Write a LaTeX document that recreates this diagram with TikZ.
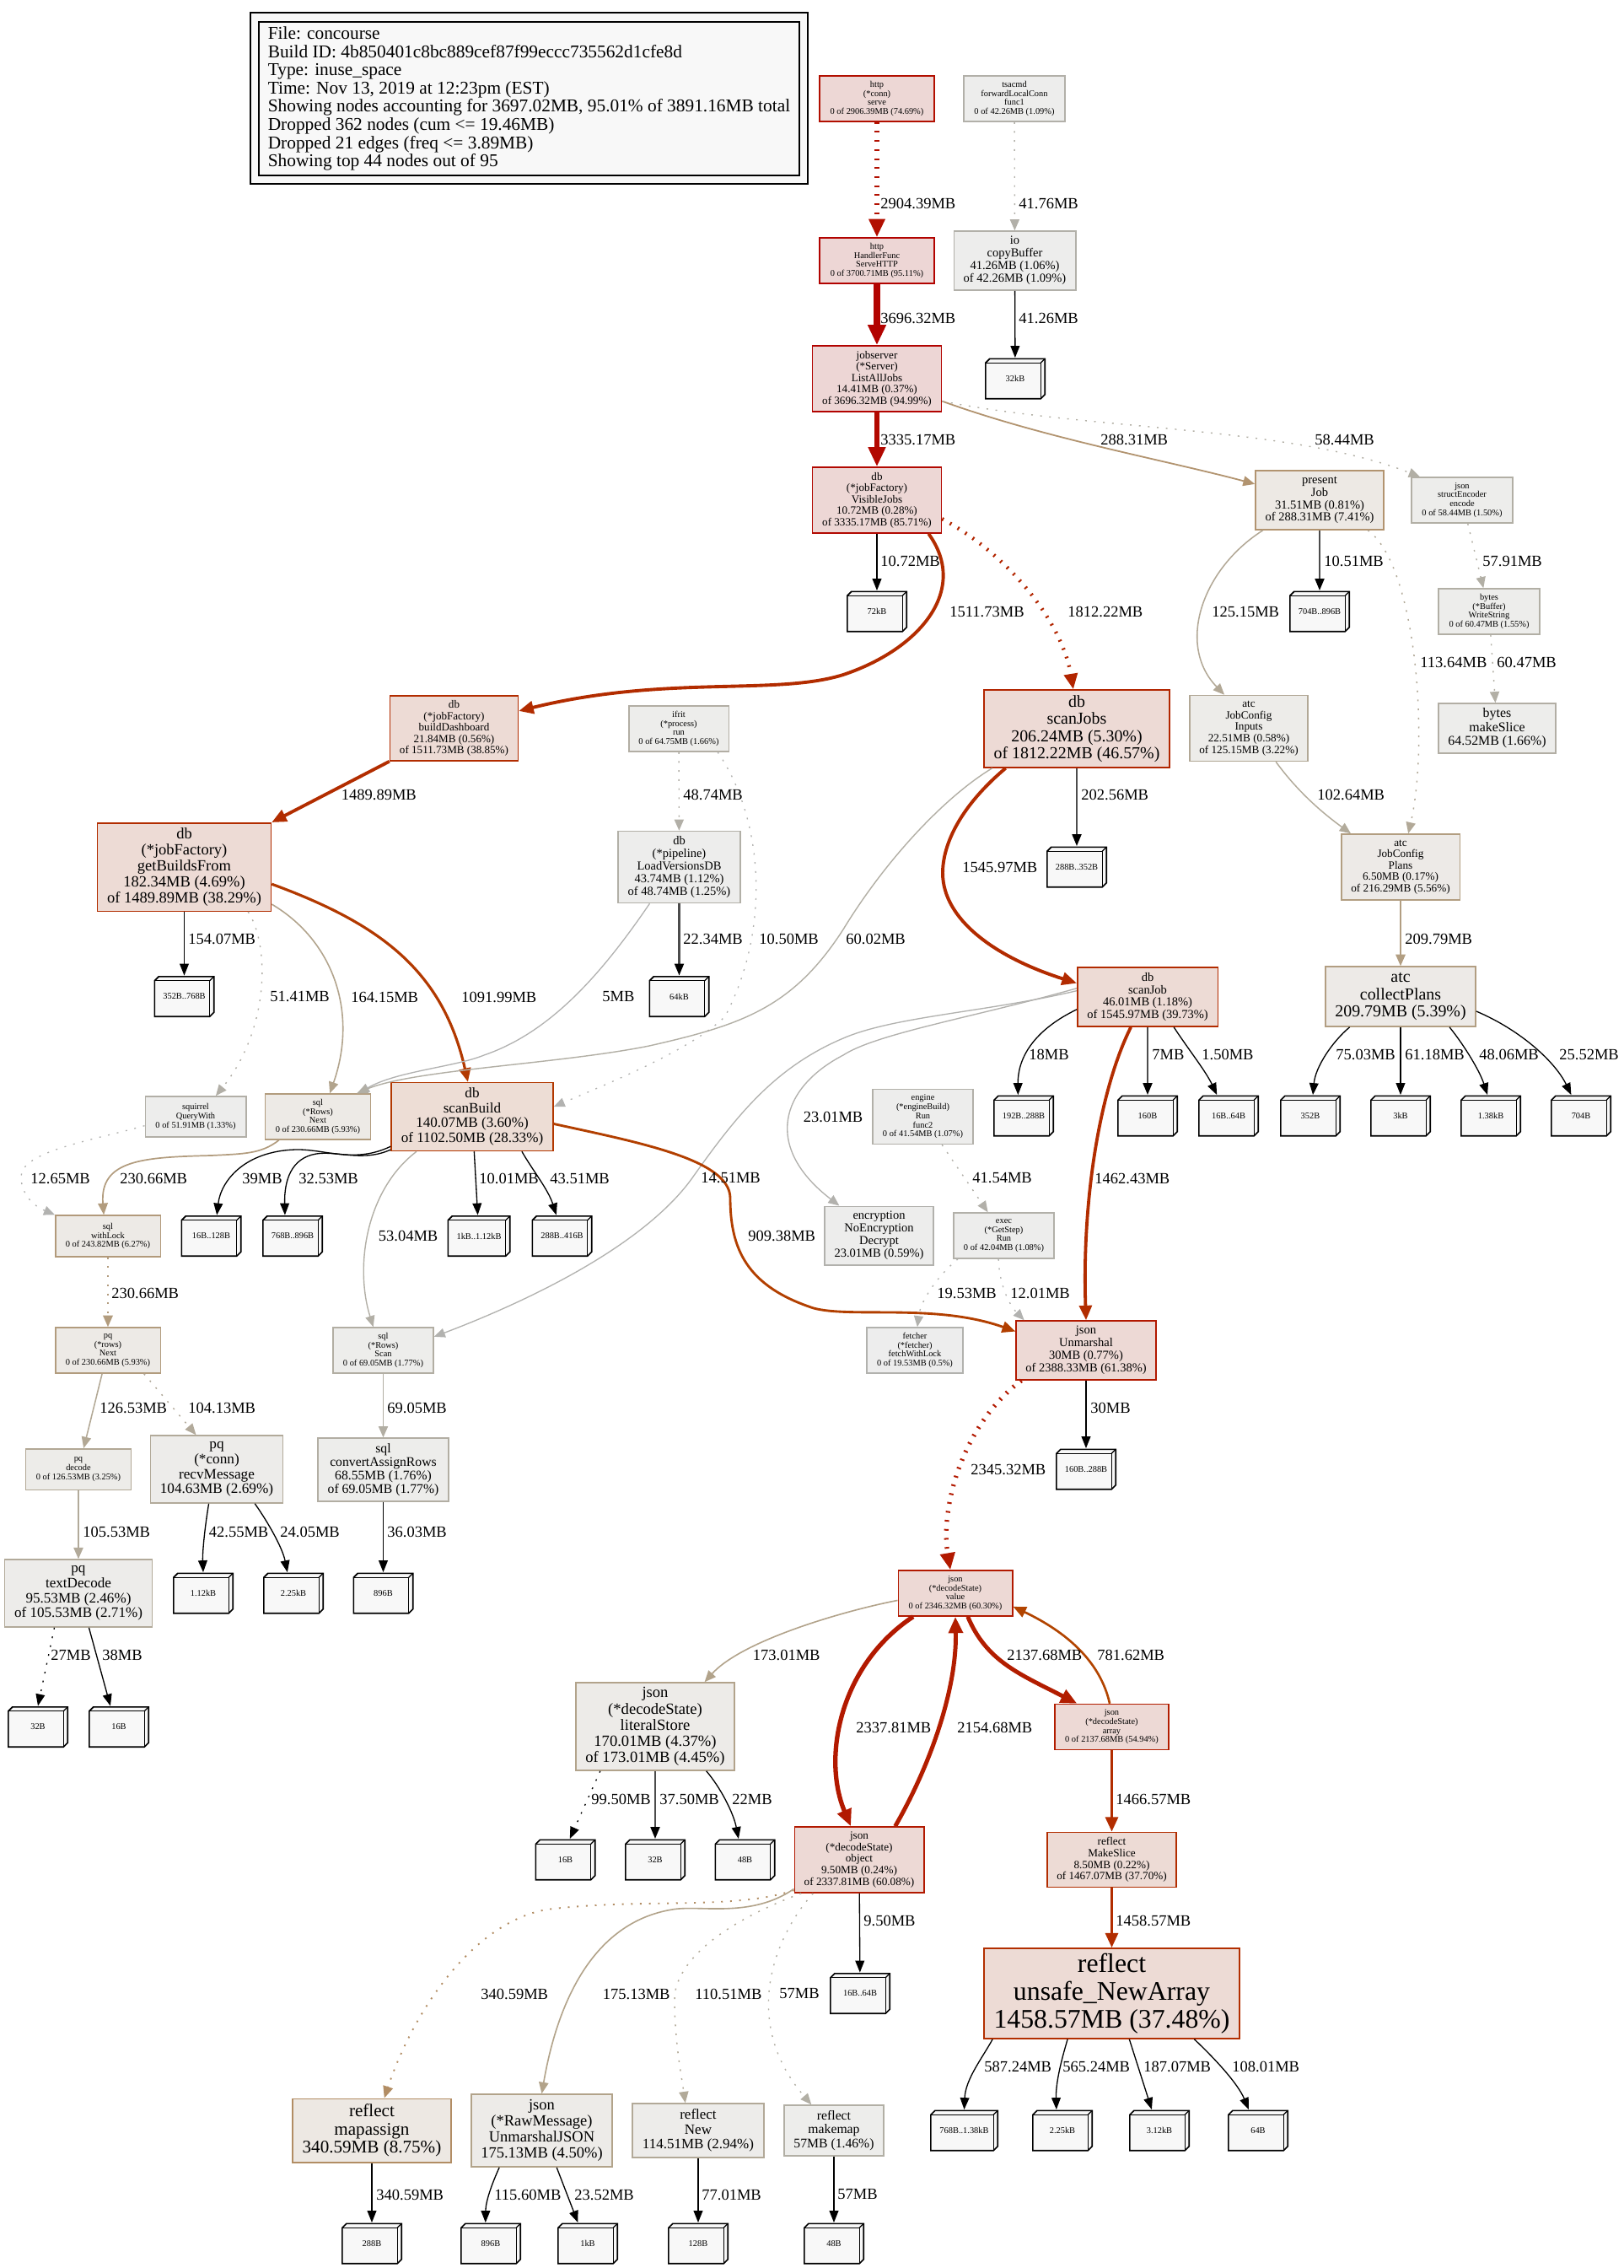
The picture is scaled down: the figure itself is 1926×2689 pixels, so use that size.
\documentclass[tikz,border=0pt]{standalone}
\usepackage{fontspec}
\setmainfont{Liberation Serif}
\usetikzlibrary{arrows.meta}
\definecolor{boxfill}{HTML}{F8F8F8}
\newcommand\setheat[1]{%
  \pgfmathsetmacro\heatsat{min(1,#1/20)}%
  \pgfmathsetmacro\heatpow{(#1/100)^0.3}%
  \pgfmathsetmacro\heatg{0.7*(1-\heatsat*\heatpow)}%
  \pgfmathsetmacro\heatb{0.7*(1-\heatsat)}%
  \pgfmathsetmacro\fillg{0.93*(1-0.1*\heatsat*\heatpow)}%
  \pgfmathsetmacro\fillb{0.93*(1-0.1*\heatsat)}%
  \definecolor{heatline}{rgb}{0.7,\heatg,\heatb}%
  \definecolor{heatfill}{rgb}{0.93,\fillg,\fillb}%
}
\newcommand\setpen[1]{%
  \pgfmathsetmacro\penfrac{#1/3891.16}%
  \pgfmathsetmacro\penlw{0.66*(1+5*\penfrac)}%
  \pgfmathsetmacro\tiplen{6.5*(1+0.9*\penfrac)}%
  \pgfmathsetmacro\tipwid{5.5*(1+0.9*\penfrac)}%
}
\begin{document}
\begin{tikzpicture}
            [x=0.5pt,y=-0.5pt,
            func/.code n args={4}{\setheat{#1}%
                \pgfmathsetmacro\nodefs{#2/2}\pgfmathsetmacro\nodels{#2*0.515}%
                \tikzset{rectangle,draw=heatline,fill=heatfill,line width=0.75pt,inner sep=0pt,align=center,
                    minimum width=0.5*#3pt,minimum height=0.5*#4pt,
                    font=\fontsize{\nodefs}{\nodels}\selectfont,
                    execute at begin node={\rule{0pt}{0.95em}}}},
            tagbox/.style={rectangle,inner sep=0pt,minimum width=36pt,minimum height=24.5pt,
                font=\fontsize{5.2}{5.3}\selectfont,
                path picture={
                    \coordinate (tsw) at ([shift={(0.4pt,0.4pt)}]path picture bounding box.south west);
                    \coordinate (tne) at ([shift={(-0.4pt,-0.4pt)}]path picture bounding box.north east);
                    \coordinate (tfr) at ([shift={(-2.5pt,-2.5pt)}]tne);
                    \draw[black,line width=0.8pt,fill=boxfill] (tsw) -- (tsw |- tfr) -- ++(2.5pt,2.5pt) -- (tne)
                        -- ([yshift=2.5pt]tne |- tsw) -- (tfr |- tsw) -- cycle;
                    \draw[black,line width=0.6pt] (tsw |- tfr) -- (tfr) -- (tfr |- tsw);
                    \draw[black,line width=0.6pt] (tfr) -- (tne);
                }},
            elab/.style={anchor=west,inner sep=0pt,font=\fontsize{9.25}{10}\selectfont},
            flow/.code={\setheat{#1/38.9116}\setpen{#1}%
                \tikzset{draw=heatline,line width=\penlw pt,-{Triangle[length=\tiplen pt,width=\tipwid pt]}}},
            tagflow/.style={draw=black,line width=0.66pt,-{Triangle[length=7pt,width=5.4pt]}},
            tagheavy/.style={draw=black!70,line width=1.2pt,-{Triangle[length=7pt,width=5.4pt,black]}},
            dotflow/.style={dash pattern=on 1pt off 4.35pt}]
            \useasboundingbox (0,0) rectangle (1926,2689);

            \node[draw=black,fill=boxfill,line width=0.7pt,minimum width=330.5pt,minimum height=101.5pt] (legendframe) at (627.5,116.5) {};
            \node[draw=black,fill=boxfill,line width=0.7pt,minimum width=320.5pt,minimum height=91pt,inner sep=0pt,align=left,
                font=\fontsize{10.68}{10.8}\selectfont] (legend) at (627.5,117) {File: concourse\\
                Build ID: 4b850401c8bc889cef87f99eccc735562d1cfe8d\\
                Type: inuse\_space\\
                Time: Nov 13, 2019 at 12:23pm (EST)\\
                Showing nodes accounting for 3697.02MB, 95.01\% of 3891.16MB total\\
                Dropped 362 nodes (cum <= 19.46MB)\\
                Dropped 21 edges (freq <= 3.89MB)\\
                Showing top 44 nodes out of 95};

            \node[func={74.69}{10.4}{136}{54}] (httpserve) at (1040,117) {http\\(*conn)\\serve\\0 of 2906.39MB (74.69\%)};
            \node[func={1.09}{10.4}{120}{54}] (tsacmd) at (1203,117) {tsacmd\\forwardLocalConn\\func1\\0 of 42.26MB (1.09\%)};
            \node[func={95.11}{10.4}{136}{54}] (handlerfunc) at (1040,309) {http\\HandlerFunc\\ServeHTTP\\0 of 3700.71MB (95.11\%)};
            \node[func={1.09}{14.5}{144.5}{70}] (copybuffer) at (1203.5,309) {io\\copyBuffer\\41.26MB (1.06\%)\\of 42.26MB (1.09\%)};
            \node[func={94.99}{13.1}{153}{78}] (listalljobs) at (1040,449) {jobserver\\(*Server)\\ListAllJobs\\14.41MB (0.37\%)\\of 3696.32MB (94.99\%)};
            \node[func={85.71}{13.1}{153}{78}] (visiblejobs) at (1040,593) {db\\(*jobFactory)\\VisibleJobs\\10.72MB (0.28\%)\\of 3335.17MB (85.71\%)};
            \node[func={7.41}{14.5}{152}{70}] (present) at (1565,593) {present\\Job\\31.51MB (0.81\%)\\of 288.31MB (7.41\%)};
            \node[func={1.50}{10.4}{120}{54}] (structencoder) at (1734,593) {json\\structEncoder\\encode\\0 of 58.44MB (1.50\%)};
            \node[func={1.55}{10.4}{120}{54}] (writestring) at (1766,725) {bytes\\(*Buffer)\\WriteString\\0 of 60.47MB (1.55\%)};
            \node[func={1.66}{15.9}{139}{59}] (makeslice) at (1775.5,863.5) {bytes\\makeSlice\\64.52MB (1.66\%)};
            \node[func={3.22}{13.2}{140}{78}] (jobinputs) at (1481,863.5) {atc\\JobConfig\\Inputs\\22.51MB (0.58\%)\\of 125.15MB (3.22\%)};
            \node[func={5.56}{13.2}{140.5}{78}] (jobplans) at (1661,1028) {atc\\JobConfig\\Plans\\6.50MB (0.17\%)\\of 216.29MB (5.56\%)};
            \node[func={5.39}{19.9}{178}{71}] (collectplans) at (1661,1181.5) {atc\\collectPlans\\209.79MB (5.39\%)};
            \node[func={46.57}{19.9}{220}{92}] (scanjobs) at (1277,864) {db\\scanJobs\\206.24MB (5.30\%)\\of 1812.22MB (46.57\%)};
            \node[func={39.73}{14.5}{166.5}{70}] (scanjob) at (1361,1182) {db\\scanJob\\46.01MB (1.18\%)\\of 1545.97MB (39.73\%)};
            \node[func={38.85}{13.1}{152}{77}] (builddashboard) at (538.5,863.5) {db\\(*jobFactory)\\buildDashboard\\21.84MB (0.56\%)\\of 1511.73MB (38.85\%)};
            \node[func={38.29}{18.5}{206}{104.5}] (getbuildsfrom) at (218.5,1028) {db\\(*jobFactory)\\getBuildsFrom\\182.34MB (4.69\%)\\of 1489.89MB (38.29\%)};
            \node[func={1.66}{10.4}{118.5}{54}] (ifritrun) at (805,864) {ifrit\\(*process)\\run\\0 of 64.75MB (1.66\%)};
            \node[func={1.25}{14.5}{145}{85}] (loadversions) at (805.5,1028) {db\\(*pipeline)\\LoadVersionsDB\\43.74MB (1.12\%)\\of 48.74MB (1.25\%)};
            \node[func={1.33}{10.4}{119.5}{48}] (querywith) at (232,1324) {squirrel\\QueryWith\\0 of 51.91MB (1.33\%)};
            \node[func={5.93}{10.4}{125}{54}] (rowsnext) at (377,1324) {sql\\(*Rows)\\Next\\0 of 230.66MB (5.93\%)};
            \node[func={28.33}{17.1}{192}{81}] (scanbuild) at (560,1324) {db\\scanBuild\\140.07MB (3.60\%)\\of 1102.50MB (28.33\%)};
            \node[func={6.27}{10.4}{124.5}{49}] (withlock) at (128,1465.5) {sql\\withLock\\0 of 243.82MB (6.27\%)};
            \node[func={1.07}{10.4}{119}{65}] (enginerun) at (1094.5,1324) {engine\\(*engineBuild)\\Run\\func2\\0 of 41.54MB (1.07\%)};
            \node[func={0.59}{14.5}{129}{69.5}] (decrypt) at (1042.5,1465) {encryption\\NoEncryption\\Decrypt\\23.01MB (0.59\%)};
            \node[func={1.08}{10.4}{119}{54}] (getstep) at (1190.5,1465) {exec\\(*GetStep)\\Run\\0 of 42.04MB (1.08\%)};
            \node[func={0.5}{10.4}{114}{54}] (fetchlock) at (1085,1601) {fetcher\\(*fetcher)\\fetchWithLock\\0 of 19.53MB (0.5\%)};
            \node[func={61.38}{14.5}{166}{70}] (unmarshal) at (1288,1601) {json\\Unmarshal\\30MB (0.77\%)\\of 2388.33MB (61.38\%)};
            \node[func={5.93}{10.4}{124.5}{54}] (pqnext) at (128,1601) {pq\\(*rows)\\Next\\0 of 230.66MB (5.93\%)};
            \node[func={1.77}{10.4}{119}{54}] (rowsscan) at (454.5,1601) {sql\\(*Rows)\\Scan\\0 of 69.05MB (1.77\%)};
            \node[func={3.25}{10.4}{125}{48.5}] (pqdecode) at (93,1742) {pq\\decode\\0 of 126.53MB (3.25\%)};
            \node[func={2.69}{17.2}{157}{80}] (recvmessage) at (257,1742) {pq\\(*conn)\\recvMessage\\104.63MB (2.69\%)};
            \node[func={1.77}{15.7}{155}{75}] (convertrows) at (454.5,1742.5) {sql\\convertAssignRows\\68.55MB (1.76\%)\\of 69.05MB (1.77\%)};
            \node[func={2.71}{17.1}{175}{80}] (textdecode) at (93,1889) {pq\\textDecode\\95.53MB (2.46\%)\\of 105.53MB (2.71\%)};
            \node[func={60.30}{10.4}{135.5}{54}] (decodevalue) at (1133,1889) {json\\(*decodeState)\\value\\0 of 2346.32MB (60.30\%)};
            \node[func={4.45}{18.6}{188}{104}] (literalstore) at (777,2047) {json\\(*decodeState)\\literalStore\\170.01MB (4.37\%)\\of 173.01MB (4.45\%)};
            \node[func={54.94}{10.4}{135}{54}] (decodearray) at (1318.5,2047.5) {json\\(*decodeState)\\array\\0 of 2137.68MB (54.94\%)};
            \node[func={60.08}{13.2}{153.5}{78}] (decodeobject) at (1019,2205) {json\\(*decodeState)\\object\\9.50MB (0.24\%)\\of 2337.81MB (60.08\%)};
            \node[func={37.70}{13.2}{153}{65}] (reflectslice) at (1318.5,2205) {reflect\\MakeSlice\\8.50MB (0.22\%)\\of 1467.07MB (37.70\%)};
            \node[func={37.48}{31.8}{303}{107}] (newarray) at (1318.5,2363.5) {reflect\\unsafe\_NewArray\\1458.57MB (37.48\%)};
            \node[func={8.75}{21.1}{188}{75.5}] (mapassign) at (441,2526) {reflect\\mapassign\\340.59MB (8.75\%)};
            \node[func={4.50}{18.5}{167}{86}] (rawmessage) at (642.5,2526) {json\\(*RawMessage)\\UnmarshalJSON\\175.13MB (4.50\%)};
            \node[func={2.94}{17}{156}{64}] (reflectnew) at (828,2526) {reflect\\New\\114.51MB (2.94\%)};
            \node[func={1.46}{15.7}{118}{60}] (makemap) at (989,2526) {reflect\\makemap\\57MB (1.46\%)};

            \node[tagbox] (t32kB) at (1204,449) {32kB};
            \node[tagbox] (t72kB) at (1040,725) {72kB};
            \node[tagbox] (t704B896B) at (1565,725) {704B..896B};
            \node[tagbox] (t288B352B) at (1277,1028) {288B..352B};
            \node[tagbox] (t352B768B) at (218.5,1181.5) {352B..768B};
            \node[tagbox] (t64kB) at (805.5,1181.5) {64kB};
            \node[tagbox] (t192B288B) at (1214,1323) {192B..288B};
            \node[tagbox] (t160B) at (1361,1323) {160B};
            \node[tagbox] (t16B64B) at (1457,1323) {16B..64B};
            \node[tagbox] (t352B) at (1554,1323) {352B};
            \node[tagbox] (t3kB) at (1661,1323) {3kB};
            \node[tagbox] (t138kB) at (1768,1323) {1.38kB};
            \node[tagbox] (t704B) at (1875,1323) {704B};
            \node[tagbox] (t16B128B) at (250.5,1465.5) {16B..128B};
            \node[tagbox] (t768B896B) at (347,1465.5) {768B..896B};
            \node[tagbox,minimum width=37.5pt] (t1kB112kB) at (568,1465.5) {1kB..1.12kB};
            \node[tagbox] (t288B416B) at (666.5,1465.5) {288B..416B};
            \node[tagbox] (t160B288B) at (1288,1742) {160B..288B};
            \node[tagbox] (t112kB) at (241,1889) {1.12kB};
            \node[tagbox] (t225kB) at (348,1889) {2.25kB};
            \node[tagbox] (t896B) at (454.5,1889) {896B};
            \node[tagbox] (t32B) at (45,2047.5) {32B};
            \node[tagbox] (t16B) at (141,2047.5) {16B};
            \node[tagbox] (s16B) at (670.5,2205) {16B};
            \node[tagbox] (s32B) at (777,2205) {32B};
            \node[tagbox] (s48B) at (883.5,2205) {48B};
            \node[tagbox] (o16B64B) at (1020,2363.5) {16B..64B};
            \node[tagbox,minimum width=40.5pt] (n768B138kB) at (1143.5,2526) {768B..1.38kB};
            \node[tagbox] (n225kB) at (1260,2526) {2.25kB};
            \node[tagbox] (n312kB) at (1375,2526) {3.12kB};
            \node[tagbox] (n64B) at (1492,2526) {64B};
            \node[tagbox] (m288B) at (441,2660) {288B};
            \node[tagbox] (r896B) at (582,2660) {896B};
            \node[tagbox] (r1kB) at (697,2660) {1kB};
            \node[tagbox] (b128B) at (828,2660) {128B};
            \node[tagbox] (k48B) at (989,2660) {48B};

            \draw[flow=2904.39,dotflow] (httpserve) -- (handlerfunc);
            \draw[flow=41.76,dotflow] (tsacmd) -- (copybuffer);
            \draw[flow=3696.32] (handlerfunc) -- (listalljobs);
            \draw[tagflow] (copybuffer) -- (t32kB);
            \draw[flow=3335.17] (listalljobs) -- (visiblejobs);
            \draw[flow=288.31] (listalljobs.-19) .. controls (1240,520) and (1380,545) .. (present.166);
            \draw[flow=58.44,dotflow] (listalljobs.-19) .. controls (1290,510) and (1530,505) .. (structencoder.151);
            \draw[tagheavy] (present) -- (t704B896B);
            \draw[flow=125.15] (present.208) .. controls (1425,675) and (1395,765) .. (jobinputs.126.6);
            \draw[flow=113.64,dotflow] (present.-32.5) .. controls (1680,670) and (1695,880) .. (jobplans.77);
            \draw[flow=57.91,dotflow] (structencoder) -- (writestring);
            \draw[flow=60.47,dotflow] (writestring) -- (makeslice);
            \draw[tagflow] (visiblejobs) -- (t72kB);
            \draw[flow=1511.73] (visiblejobs.-33) .. controls (1150,700) and (1090,770) .. (1000,800) .. controls (920,825) and (790,800) .. (builddashboard.15);
            \draw[flow=1812.22,dotflow] (visiblejobs.-16.6) .. controls (1200,660) and (1260,740) .. (scanjobs.95);
            \draw[flow=1489.89] (builddashboard.south west) -- (getbuildsfrom.north east);
            \draw[flow=48.74,dotflow] (ifritrun) -- (loadversions);
            \draw[flow=10.50,dotflow] (ifritrun.-31.8) .. controls (905,970) and (915,1100) .. (860,1205) .. controls (820,1245) and (720,1285) .. (scanbuild.7.7);
            \draw[tagflow] (getbuildsfrom) -- (t352B768B);
            \draw[flow=51.41,dotflow] (getbuildsfrom.-35.5) .. controls (320,1120) and (320,1220) .. (querywith.46.8);
            \draw[flow=164.15] (getbuildsfrom.-23.6) .. controls (395,1115) and (425,1200) .. (rowsnext.63.4);
            \draw[flow=1091.99] (getbuildsfrom.-11.5) .. controls (450,1095) and (525,1150) .. (scanbuild.97);
            \draw[flow=230.66] (rowsnext.211.6) .. controls (310,1368) and (290,1368) .. (250,1370) .. controls (170,1372) and (118,1375) .. (withlock.101.5);
            \draw[flow=12.65,dotflow] (querywith.-170.5) .. controls (110,1352) and (25,1365) .. (25,1395) .. controls (25,1420) and (45,1432) .. (withlock.north west);
            \draw[tagheavy] (loadversions) -- (t64kB);
            \draw[flow=5] (loadversions.231.8) .. controls (710,1160) and (650,1225) .. (574,1251) .. controls (540,1265) and (470,1270) .. (rowsnext.30);
            \draw[flow=60.02] (scanjobs.205.4) .. controls (1120,945) and (1050,1020) .. (1000,1102) .. controls (940,1195) and (880,1215) .. (770,1240) .. controls (660,1262) and (490,1268) .. (rowsnext.31.5);
            \draw[tagheavy] (scanjobs) -- (t288B352B);
            \draw[flow=1545.97] (scanjobs.209) .. controls (1140,955) and (1118,1000) .. (1118,1035) .. controls (1118,1090) and (1180,1135) .. (scanjob.169.8);
            \draw[flow=209.79] (jobplans) -- (collectplans);
            \draw[flow=102.64] (jobinputs.-51) .. controls (1540,940) and (1570,965) .. (jobplans.146.4);
            \draw[tagflow] (scanjob.190.9) .. controls (1225,1222) and (1207,1255) .. (t192B288B.105.6);
            \draw[tagheavy] (scanjob) -- (t160B);
            \draw[tagflow] (scanjob.-49.4) .. controls (1410,1245) and (1430,1270) .. (t16B64B.119);
            \draw[flow=1462.43] (scanjob.-119.7) .. controls (1305,1290) and (1283,1420) .. (unmarshal.north);
            \draw[flow=23.01] (scanjob.173) .. controls (1160,1205) and (1040,1225) .. (1000,1251) .. controls (925,1290) and (905,1360) .. (decrypt.143.6);
            \draw[flow=14.51] (scanjob.175) .. controls (1170,1200) and (1060,1205) .. (1000,1231) .. controls (920,1265) and (875,1320) .. (820,1398) .. controls (760,1480) and (620,1545) .. (rowsscan.15);
            \draw[flow=41.54,dotflow] (enginerun) -- (getstep);
            \draw[flow=19.53,dotflow] (getstep.207.7) .. controls (1115,1510) and (1092,1540) .. (fetchlock.84);
            \draw[flow=12.01,dotflow] (getstep.257.5) .. controls (1185,1520) and (1195,1545) .. (unmarshal.154.7);
            \draw[flow=909.38] (scanbuild.-5.7) .. controls (760,1355) and (865,1375) .. (866,1420) .. controls (866,1480) and (885,1525) .. (965,1551) .. controls (1010,1563) and (1110,1545) .. (unmarshal.165);
            \draw[tagflow] (scanbuild.200.6) .. controls (420,1380) and (385,1362) .. (350,1363) .. controls (290,1365) and (262,1400) .. (t16B128B.75);
            \draw[tagflow] (scanbuild.202) .. controls (430,1378) and (400,1364) .. (375,1368) .. controls (345,1373) and (337,1400) .. (t768B896B.110);
            \draw[tagflow] (scanbuild) -- (t1kB112kB);
            \draw[tagflow] (scanbuild.-35.7) .. controls (632,1388) and (650,1410) .. (t288B416B.105);
            \draw[flow=53.04] (scanbuild.212) .. controls (435,1410) and (420,1500) .. (rowsscan.113);
            \draw[flow=230.66,dotflow] (withlock) -- (pqnext);
            \draw[flow=126.53] (pqnext) -- (pqdecode);
            \draw[flow=104.13,dotflow] (pqnext.-33.4) -- (recvmessage.121);
            \draw[flow=69.05] (rowsscan) -- (convertrows);
            \draw[flow=105.53] (pqdecode) -- (textdecode);
            \draw[tagflow] (recvmessage.-103.8) .. controls (243,1810) and (240,1840) .. (t112kB.north);
            \draw[tagflow] (recvmessage.-42.7) .. controls (318,1805) and (335,1835) .. (t225kB.106);
            \draw[tagflow] (convertrows) -- (t896B);
            \draw[tagflow,dotflow] (textdecode.235) -- (t32B.north);
            \draw[tagflow] (textdecode.-73) -- (t16B.112.6);
            \draw[tagflow] (unmarshal) -- (t160B288B);
            \draw[flow=2345.32,dotflow] (unmarshal.205.3) .. controls (1140,1690) and (1115,1790) .. (decodevalue.102.5);
            \draw[flow=173.01] (decodevalue.187.6) .. controls (1000,1910) and (880,1945) .. (literalstore.42);
            \draw[flow=2337.81] (decodevalue.209.4) .. controls (995,1975) and (975,2085) .. (decodeobject.104);
            \draw[flow=2154.68] (decodeobject.43.6) .. controls (1105,2090) and (1135,2000) .. (decodevalue.south);
            \draw[flow=2137.68] (decodevalue.-62.7) .. controls (1170,1970) and (1210,1985) .. (decodearray.146.3);
            \draw[flow=781.62] (decodearray.95) .. controls (1305,1970) and (1265,1935) .. (decodevalue.-13.3);
            \draw[flow=1466.57] (decodearray) -- (reflectslice);
            \draw[flow=1458.57] (reflectslice) -- (newarray);
            \draw[tagflow,dotflow] (literalstore.219.8) -- (s16B.78);
            \draw[tagheavy] (literalstore) -- (s32B);
            \draw[tagflow] (literalstore.-41.4) .. controls (855,2120) and (870,2150) .. (s48B.107);
            \draw[tagflow] (decodeobject) -- (o16B64B);
            \draw[flow=340.59,dotflow] (decodeobject.205.8) .. controls (870,2265) and (760,2250) .. (648,2264) .. controls (560,2280) and (490,2385) .. (mapassign.69.7);
            \draw[flow=175.13] (decodeobject.204.6) .. controls (890,2275) and (830,2258) .. (797,2264) .. controls (700,2280) and (660,2380) .. (rawmessage.north);
            \draw[flow=110.51,dotflow] (decodeobject.210.2) .. controls (830,2290) and (800,2340) .. (800,2370) .. controls (800,2420) and (808,2460) .. (reflectnew.115);
            \draw[flow=57,dotflow] (decodeobject.216.9) .. controls (915,2300) and (880,2400) .. (makemap.131);
            \draw[tagflow] (newarray.201.8) .. controls (1165,2440) and (1145,2465) .. (n768B138kB.north);
            \draw[tagflow] (newarray.226.4) .. controls (1258,2445) and (1252,2470) .. (n225kB.106);
            \draw[tagflow] (newarray.-69) -- (n312kB.110);
            \draw[tagflow] (newarray.-29) .. controls (1440,2440) and (1468,2470) .. (n64B.114);
            \draw[tagflow] (mapassign) -- (m288B);
            \draw[tagflow] (rawmessage.221.6) .. controls (583,2590) and (576,2610) .. (r896B.104);
            \draw[tagflow] (rawmessage.-68) -- (r1kB.115);
            \draw[tagflow] (reflectnew) -- (b128B);
            \draw[tagflow] (makemap) -- (k48B);
            \draw[tagflow] (collectplans.211) .. controls (1580,1235) and (1560,1265) .. (t352B.83);
            \draw[tagflow] (collectplans) -- (t3kB);
            \draw[tagflow] (collectplans.-32.8) .. controls (1737,1240) and (1755,1270) .. (t138kB.99);
            \draw[tagflow] (collectplans.-11.7) .. controls (1805,1222) and (1845,1260) .. (t704B.115);

            \node[elab] (l01) at (1044,241) {2904.39MB};
            \node[elab] (l02) at (1208,241) {41.76MB};
            \node[elab] (l03) at (1044,377) {3696.32MB};
            \node[elab] (l04) at (1208,377) {41.26MB};
            \node[elab] (l05) at (1044,521) {3335.17MB};
            \node[elab] (l06) at (1305,521) {288.31MB};
            \node[elab] (l07) at (1559,521) {58.44MB};
            \node[elab] (l08) at (1044,665) {10.72MB};
            \node[elab] (l09) at (1570,665) {10.51MB};
            \node[elab] (l10) at (1758,665) {57.91MB};
            \node[elab] (l11) at (1126,725) {1511.73MB};
            \node[elab] (l12) at (1266,725) {1812.22MB};
            \node[elab] (l13) at (1437,725) {125.15MB};
            \node[elab] (l14) at (1684,785) {113.64MB};
            \node[elab] (l15) at (1775,785) {60.47MB};
            \node[elab] (l16) at (404.5,942) {1489.89MB};
            \node[elab] (l17) at (810,942) {48.74MB};
            \node[elab] (l18) at (1282,942) {202.56MB};
            \node[elab] (l19) at (1562,942) {102.64MB};
            \node[elab] (l20) at (1141,1028) {1545.97MB};
            \node[elab] (l21) at (223,1113) {154.07MB};
            \node[elab] (l22) at (810,1113) {22.34MB};
            \node[elab] (l23) at (900,1113) {10.50MB};
            \node[elab] (l24) at (1003,1113) {60.02MB};
            \node[elab] (l25) at (1666,1113) {209.79MB};
            \node[elab] (l26) at (320,1182) {51.41MB};
            \node[elab] (l27) at (416,1182) {164.15MB};
            \node[elab] (l28) at (547,1182) {1091.99MB};
            \node[elab] (l29) at (714,1182) {5MB};
            \node[elab] (l30) at (1220,1250) {18MB};
            \node[elab] (l31) at (1366,1250) {7MB};
            \node[elab] (l32) at (1425,1250) {1.50MB};
            \node[elab] (l33) at (1584,1250) {75.03MB};
            \node[elab] (l34) at (1666,1250) {61.18MB};
            \node[elab] (l35) at (1754,1250) {48.06MB};
            \node[elab] (l36) at (1849,1250) {25.52MB};
            \node[elab] (l37) at (952.5,1324) {23.01MB};
            \node[elab] (l38) at (36,1397) {12.65MB};
            \node[elab] (l39) at (142,1397) {230.66MB};
            \node[elab] (l40) at (287,1397) {39MB};
            \node[elab] (l41) at (354,1397) {32.53MB};
            \node[elab] (l42) at (568,1397) {10.01MB};
            \node[elab] (l43) at (652,1397) {43.51MB};
            \node[elab] (l44) at (831,1397) {14.51MB};
            \node[elab] (l45) at (1153,1397) {41.54MB};
            \node[elab] (l46) at (1298,1397) {1462.43MB};
            \node[elab] (l47) at (448.5,1465) {53.04MB};
            \node[elab] (l48) at (887,1465) {909.38MB};
            \node[elab] (l49) at (1111,1533) {19.53MB};
            \node[elab] (l50) at (1198,1533) {12.01MB};
            \node[elab] (l51) at (132,1533) {230.66MB};
            \node[elab] (l52) at (118,1669) {126.53MB};
            \node[elab] (l53) at (223,1669) {104.13MB};
            \node[elab] (l54) at (459,1669) {69.05MB};
            \node[elab] (l55) at (1293,1669) {30MB};
            \node[elab] (l56) at (1151,1742) {2345.32MB};
            \node[elab] (l57) at (98,1816) {105.53MB};
            \node[elab] (l58) at (247.5,1816) {42.55MB};
            \node[elab] (l59) at (332,1816) {24.05MB};
            \node[elab] (l60) at (459,1816) {36.03MB};
            \node[elab] (l61) at (60,1962) {27MB};
            \node[elab] (l62) at (121,1962) {38MB};
            \node[elab] (l63) at (892.5,1962) {173.01MB};
            \node[elab] (l64) at (1194,1962) {2137.68MB};
            \node[elab] (l65) at (1301,1962) {781.62MB};
            \node[elab] (l66) at (1015,2048) {2337.81MB};
            \node[elab] (l67) at (1135,2048) {2154.68MB};
            \node[elab] (l68) at (701,2133) {99.50MB};
            \node[elab] (l69) at (782,2133) {37.50MB};
            \node[elab] (l70) at (868,2133) {22MB};
            \node[elab] (l71) at (1323,2133) {1466.57MB};
            \node[elab] (l72) at (1024,2277) {9.50MB};
            \node[elab] (l73) at (1323,2277) {1458.57MB};
            \node[elab] (l74) at (570,2364) {340.59MB};
            \node[elab] (l75) at (714.5,2364) {175.13MB};
            \node[elab] (l76) at (824,2364) {110.51MB};
            \node[elab] (l77) at (924,2364) {57MB};
            \node[elab] (l78) at (1167,2450) {587.24MB};
            \node[elab] (l79) at (1260,2450) {565.24MB};
            \node[elab] (l80) at (1356,2450) {187.07MB};
            \node[elab] (l81) at (1461,2450) {108.01MB};
            \node[elab] (l82) at (446,2602) {340.59MB};
            \node[elab] (l83) at (586,2602) {115.60MB};
            \node[elab] (l84) at (681,2602) {23.52MB};
            \node[elab] (l85) at (832,2602) {77.01MB};
            \node[elab] (l86) at (993,2602) {57MB};
        \end{tikzpicture}
\end{document}
